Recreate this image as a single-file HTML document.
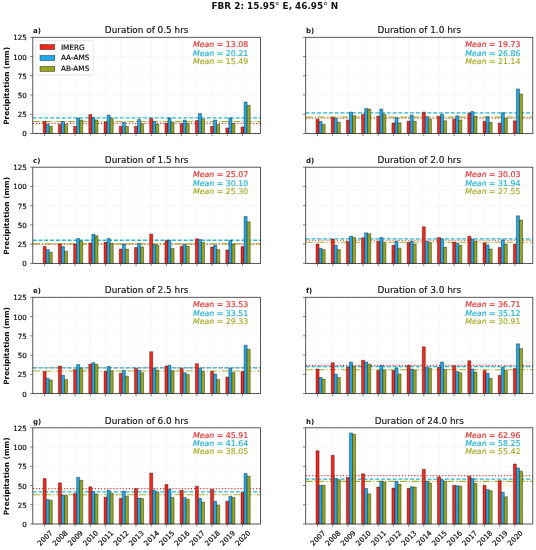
<!DOCTYPE html>
<html lang="en"><head><meta charset="utf-8"><title>FBR 2: 15.95° E, 46.95° N</title>
<style>html,body{margin:0;padding:0;background:#fff}body{width:536px;height:550px;overflow:hidden}svg{display:block}</style>
</head><body>
<svg width="536" height="550" viewBox="0 0 536 550" font-family="'DejaVu Sans', 'Liberation Sans', sans-serif">
<rect width="536" height="550" fill="#fff"/>
<text transform="translate(274.8 8.7) scale(1.095 1)" text-anchor="middle" font-weight="bold" font-size="8.1" fill="#111">FBR 2: 15.95° E, 46.95° N</text>
<g>
<path d="M44.67 37.3V133.45M59.89 37.3V133.45M75.11 37.3V133.45M90.33 37.3V133.45M105.55 37.3V133.45M120.78 37.3V133.45M136 37.3V133.45M151.22 37.3V133.45M166.44 37.3V133.45M181.66 37.3V133.45M196.88 37.3V133.45M212.1 37.3V133.45M227.32 37.3V133.45M242.54 37.3V133.45M32.8 114.22H260.5M32.8 94.99H260.5M32.8 75.76H260.5M32.8 56.53H260.5" stroke="#f2f2f2" stroke-width="0.6" fill="none"/>
<path d="M32.8 123.39H260.5" stroke="#dc3a38" stroke-width="1.15" stroke-dasharray="1.2 1.9" fill="none"/>
<path d="M32.8 117.9H260.5" stroke="#27b4d0" stroke-width="1.3" stroke-dasharray="3.9 1.9" fill="none"/>
<path d="M32.8 121.54H260.5" stroke="#aaae30" stroke-width="1.15" stroke-dasharray="7 1.8 1.2 1.8" fill="none"/>
<path d="M43.14 133.45V121.22h3.06V133.45zM58.36 133.45V124.22h3.06V133.45zM73.58 133.45V126.37h3.06V133.45zM88.8 133.45V114.6h3.06V133.45zM104.02 133.45V121.91h3.06V133.45zM119.25 133.45V126.22h3.06V133.45zM134.47 133.45V126.22h3.06V133.45zM149.69 133.45V118.3h3.06V133.45zM164.91 133.45V123.37h3.06V133.45zM180.13 133.45V123.68h3.06V133.45zM195.35 133.45V120.53h3.06V133.45zM210.57 133.45V126.37h3.06V133.45zM225.79 133.45V127.91h3.06V133.45zM241.01 133.45V127.07h3.06V133.45z" fill="#f3291f" stroke="#000" stroke-opacity="0.62" stroke-width="0.6"/>
<path d="M46.2 133.45V124.22h3.06V133.45zM61.42 133.45V121.53h3.06V133.45zM76.64 133.45V118.07h3.06V133.45zM91.86 133.45V117.53h3.06V133.45zM107.08 133.45V115.07h3.06V133.45zM122.31 133.45V122.22h3.06V133.45zM137.53 133.45V119.53h3.06V133.45zM152.75 133.45V121.22h3.06V133.45zM167.97 133.45V117.99h3.06V133.45zM183.19 133.45V119.99h3.06V133.45zM198.41 133.45V113.6h3.06V133.45zM213.63 133.45V119.99h3.06V133.45zM228.85 133.45V117.99h3.06V133.45zM244.07 133.45V101.91h3.06V133.45z" fill="#1fa8ea" stroke="#000" stroke-opacity="0.62" stroke-width="0.6"/>
<path d="M49.26 133.45V126.37h3.06V133.45zM64.48 133.45V124.22h3.06V133.45zM79.7 133.45V119.99h3.06V133.45zM94.92 133.45V119.99h3.06V133.45zM110.14 133.45V118.37h3.06V133.45zM125.37 133.45V126.22h3.06V133.45zM140.59 133.45V123.68h3.06V133.45zM155.81 133.45V124.22h3.06V133.45zM171.03 133.45V122.22h3.06V133.45zM186.25 133.45V123.37h3.06V133.45zM201.47 133.45V119.14h3.06V133.45zM216.69 133.45V124.53h3.06V133.45zM231.91 133.45V123.37h3.06V133.45zM247.13 133.45V105.37h3.06V133.45z" fill="#97a51f" stroke="#000" stroke-opacity="0.62" stroke-width="0.6"/>
<path d="M44.67 133.45v2.7M59.89 133.45v2.7M75.11 133.45v2.7M90.33 133.45v2.7M105.55 133.45v2.7M120.78 133.45v2.7M136 133.45v2.7M151.22 133.45v2.7M166.44 133.45v2.7M181.66 133.45v2.7M196.88 133.45v2.7M212.1 133.45v2.7M227.32 133.45v2.7M242.54 133.45v2.7M32.8 133.45h-2.7M32.8 114.22h-2.7M32.8 94.99h-2.7M32.8 75.76h-2.7M32.8 56.53h-2.7M32.8 37.3h-2.7" stroke="#3a3a3a" stroke-width="0.65" fill="none"/>
<rect x="32.8" y="37.3" width="227.7" height="96.15" fill="none" stroke="#3a3a3a" stroke-width="0.85"/>
<text x="26.7" y="136.45" text-anchor="end" font-size="7.1" fill="#111" stroke="#111" stroke-width="0.18">0</text>
<text x="26.7" y="117.22" text-anchor="end" font-size="7.1" fill="#111" stroke="#111" stroke-width="0.18">25</text>
<text x="26.7" y="97.99" text-anchor="end" font-size="7.1" fill="#111" stroke="#111" stroke-width="0.18">50</text>
<text x="26.7" y="78.76" text-anchor="end" font-size="7.1" fill="#111" stroke="#111" stroke-width="0.18">75</text>
<text x="26.7" y="59.53" text-anchor="end" font-size="7.1" fill="#111" stroke="#111" stroke-width="0.18">100</text>
<text x="26.7" y="40.3" text-anchor="end" font-size="7.1" fill="#111" stroke="#111" stroke-width="0.18">125</text>
<text x="146.65" y="33" text-anchor="middle" font-size="8.88" fill="#111" stroke="#111" stroke-width="0.15">Duration of 0.5 hrs</text>
<text x="33.1" y="33" font-weight="bold" font-size="7.0" fill="#111">a)</text>
<text transform="translate(8.7 85.88) rotate(-90)" text-anchor="middle" font-weight="bold" font-size="7.33" fill="#111">Precipitation (mm)</text>
<text x="248.1" y="47.3" text-anchor="end" font-size="7.8" fill="#dc3a38" stroke="#dc3a38" stroke-width="0.2"><tspan font-style="italic">Mean</tspan> = 13.08</text>
<text x="248.1" y="55.6" text-anchor="end" font-size="7.8" fill="#27b4d0" stroke="#27b4d0" stroke-width="0.2"><tspan font-style="italic">Mean</tspan> = 20.21</text>
<text x="248.1" y="63.9" text-anchor="end" font-size="7.8" fill="#aaae30" stroke="#aaae30" stroke-width="0.2"><tspan font-style="italic">Mean</tspan> = 15.49</text>
<rect x="35.9" y="40.5" width="57.4" height="34.2" rx="1.5" fill="#fff" fill-opacity="0.8" stroke="#dedede" stroke-width="0.6"/>
<rect x="40" y="44.5" width="14.7" height="5.1" fill="#f3291f" stroke="#000" stroke-opacity="0.62" stroke-width="0.6"/>
<text x="60.9" y="49.5" font-size="7.3" fill="#111" stroke="#111" stroke-width="0.2">IMERG</text>
<rect x="40" y="55.45" width="14.7" height="5.1" fill="#1fa8ea" stroke="#000" stroke-opacity="0.62" stroke-width="0.6"/>
<text x="60.9" y="60.45" font-size="7.3" fill="#111" stroke="#111" stroke-width="0.2">AA-AMS</text>
<rect x="40" y="66.4" width="14.7" height="5.1" fill="#97a51f" stroke="#000" stroke-opacity="0.62" stroke-width="0.6"/>
<text x="60.9" y="71.4" font-size="7.3" fill="#111" stroke="#111" stroke-width="0.2">AB-AMS</text>
</g>
<g>
<path d="M317.54 37.3V133.45M332.72 37.3V133.45M347.9 37.3V133.45M363.08 37.3V133.45M378.26 37.3V133.45M393.44 37.3V133.45M408.62 37.3V133.45M423.8 37.3V133.45M438.98 37.3V133.45M454.17 37.3V133.45M469.35 37.3V133.45M484.53 37.3V133.45M499.71 37.3V133.45M514.89 37.3V133.45M305.7 114.22H532.8M305.7 94.99H532.8M305.7 75.76H532.8M305.7 56.53H532.8" stroke="#f2f2f2" stroke-width="0.6" fill="none"/>
<path d="M305.7 118.27H532.8" stroke="#dc3a38" stroke-width="1.15" stroke-dasharray="1.2 1.9" fill="none"/>
<path d="M305.7 112.79H532.8" stroke="#27b4d0" stroke-width="1.3" stroke-dasharray="3.9 1.9" fill="none"/>
<path d="M305.7 117.19H532.8" stroke="#aaae30" stroke-width="1.15" stroke-dasharray="7 1.8 1.2 1.8" fill="none"/>
<path d="M316.01 133.45V119.14h3.06V133.45zM331.19 133.45V117.53h3.06V133.45zM346.37 133.45V119.99h3.06V133.45zM361.55 133.45V114.14h3.06V133.45zM376.73 133.45V116.14h3.06V133.45zM391.91 133.45V123.07h3.06V133.45zM407.09 133.45V121.22h3.06V133.45zM422.27 133.45V112.14h3.06V133.45zM437.45 133.45V116.14h3.06V133.45zM452.64 133.45V119.14h3.06V133.45zM467.82 133.45V113.3h3.06V133.45zM483 133.45V121.22h3.06V133.45zM498.18 133.45V123.07h3.06V133.45zM513.36 133.45V120.84h3.06V133.45z" fill="#f3291f" stroke="#000" stroke-opacity="0.62" stroke-width="0.6"/>
<path d="M319.07 133.45V121.37h3.06V133.45zM334.25 133.45V118.3h3.06V133.45zM349.43 133.45V112.14h3.06V133.45zM364.61 133.45V108.45h3.06V133.45zM379.79 133.45V109.07h3.06V133.45zM394.97 133.45V117.53h3.06V133.45zM410.15 133.45V115.14h3.06V133.45zM425.33 133.45V116.68h3.06V133.45zM440.51 133.45V114.3h3.06V133.45zM455.7 133.45V115.84h3.06V133.45zM470.88 133.45V111.6h3.06V133.45zM486.06 133.45V116.68h3.06V133.45zM501.24 133.45V112.76h3.06V133.45zM516.42 133.45V88.91h3.06V133.45z" fill="#1fa8ea" stroke="#000" stroke-opacity="0.62" stroke-width="0.6"/>
<path d="M322.13 133.45V124.22h3.06V133.45zM337.31 133.45V122.22h3.06V133.45zM352.49 133.45V115.45h3.06V133.45zM367.67 133.45V109.07h3.06V133.45zM382.85 133.45V114.14h3.06V133.45zM398.03 133.45V122.84h3.06V133.45zM413.21 133.45V121.22h3.06V133.45zM428.39 133.45V119.14h3.06V133.45zM443.57 133.45V120.84h3.06V133.45zM458.76 133.45V119.99h3.06V133.45zM473.94 133.45V116.3h3.06V133.45zM489.12 133.45V122.22h3.06V133.45zM504.3 133.45V118.3h3.06V133.45zM519.48 133.45V93.99h3.06V133.45z" fill="#97a51f" stroke="#000" stroke-opacity="0.62" stroke-width="0.6"/>
<path d="M317.54 133.45v2.7M332.72 133.45v2.7M347.9 133.45v2.7M363.08 133.45v2.7M378.26 133.45v2.7M393.44 133.45v2.7M408.62 133.45v2.7M423.8 133.45v2.7M438.98 133.45v2.7M454.17 133.45v2.7M469.35 133.45v2.7M484.53 133.45v2.7M499.71 133.45v2.7M514.89 133.45v2.7M305.7 133.45h-2.7M305.7 114.22h-2.7M305.7 94.99h-2.7M305.7 75.76h-2.7M305.7 56.53h-2.7M305.7 37.3h-2.7" stroke="#3a3a3a" stroke-width="0.65" fill="none"/>
<rect x="305.7" y="37.3" width="227.1" height="96.15" fill="none" stroke="#3a3a3a" stroke-width="0.85"/>
<text x="419.25" y="33" text-anchor="middle" font-size="8.88" fill="#111" stroke="#111" stroke-width="0.15">Duration of 1.0 hrs</text>
<text x="306" y="33" font-weight="bold" font-size="7.0" fill="#111">b)</text>
<text x="520.4" y="47.3" text-anchor="end" font-size="7.8" fill="#dc3a38" stroke="#dc3a38" stroke-width="0.2"><tspan font-style="italic">Mean</tspan> = 19.73</text>
<text x="520.4" y="55.6" text-anchor="end" font-size="7.8" fill="#27b4d0" stroke="#27b4d0" stroke-width="0.2"><tspan font-style="italic">Mean</tspan> = 26.86</text>
<text x="520.4" y="63.9" text-anchor="end" font-size="7.8" fill="#aaae30" stroke="#aaae30" stroke-width="0.2"><tspan font-style="italic">Mean</tspan> = 21.14</text>
</g>
<g>
<path d="M44.67 167.2V263.4M59.89 167.2V263.4M75.11 167.2V263.4M90.33 167.2V263.4M105.55 167.2V263.4M120.78 167.2V263.4M136 167.2V263.4M151.22 167.2V263.4M166.44 167.2V263.4M181.66 167.2V263.4M196.88 167.2V263.4M212.1 167.2V263.4M227.32 167.2V263.4M242.54 167.2V263.4M32.8 244.16H260.5M32.8 224.92H260.5M32.8 205.68H260.5M32.8 186.44H260.5" stroke="#f2f2f2" stroke-width="0.6" fill="none"/>
<path d="M32.8 244.11H260.5" stroke="#dc3a38" stroke-width="1.15" stroke-dasharray="1.2 1.9" fill="none"/>
<path d="M32.8 240.24H260.5" stroke="#27b4d0" stroke-width="1.3" stroke-dasharray="3.9 1.9" fill="none"/>
<path d="M32.8 243.93H260.5" stroke="#aaae30" stroke-width="1.15" stroke-dasharray="7 1.8 1.2 1.8" fill="none"/>
<path d="M43.14 263.4V246.62h3.06V263.4zM58.36 263.4V244.08h3.06V263.4zM73.58 263.4V244.08h3.06V263.4zM88.8 263.4V242.93h3.06V263.4zM104.02 263.4V242.24h3.06V263.4zM119.25 263.4V249.09h3.06V263.4zM134.47 263.4V247.47h3.06V263.4zM149.69 263.4V234h3.06V263.4zM164.91 263.4V240.7h3.06V263.4zM180.13 263.4V246.24h3.06V263.4zM195.35 263.4V238.7h3.06V263.4zM210.57 263.4V246.93h3.06V263.4zM225.79 263.4V249.93h3.06V263.4zM241.01 263.4V246.62h3.06V263.4z" fill="#f3291f" stroke="#000" stroke-opacity="0.62" stroke-width="0.6"/>
<path d="M46.2 263.4V249.47h3.06V263.4zM61.42 263.4V246.62h3.06V263.4zM76.64 263.4V238.39h3.06V263.4zM91.86 263.4V234.31h3.06V263.4zM107.08 263.4V238.39h3.06V263.4zM122.31 263.4V244.08h3.06V263.4zM137.53 263.4V243.54h3.06V263.4zM152.75 263.4V244.54h3.06V263.4zM167.97 263.4V240.39h3.06V263.4zM183.19 263.4V244.39h3.06V263.4zM198.41 263.4V239.39h3.06V263.4zM213.63 263.4V245.24h3.06V263.4zM228.85 263.4V240.39h3.06V263.4zM244.07 263.4V216.38h3.06V263.4z" fill="#1fa8ea" stroke="#000" stroke-opacity="0.62" stroke-width="0.6"/>
<path d="M49.26 263.4V252.16h3.06V263.4zM64.48 263.4V251.16h3.06V263.4zM79.7 263.4V241.24h3.06V263.4zM94.92 263.4V235.69h3.06V263.4zM110.14 263.4V243.24h3.06V263.4zM125.37 263.4V249.09h3.06V263.4zM140.59 263.4V246.93h3.06V263.4zM155.81 263.4V245.24h3.06V263.4zM171.03 263.4V248.62h3.06V263.4zM186.25 263.4V246.24h3.06V263.4zM201.47 263.4V242.39h3.06V263.4zM216.69 263.4V249.62h3.06V263.4zM231.91 263.4V244.08h3.06V263.4zM247.13 263.4V221.76h3.06V263.4z" fill="#97a51f" stroke="#000" stroke-opacity="0.62" stroke-width="0.6"/>
<path d="M44.67 263.4v2.7M59.89 263.4v2.7M75.11 263.4v2.7M90.33 263.4v2.7M105.55 263.4v2.7M120.78 263.4v2.7M136 263.4v2.7M151.22 263.4v2.7M166.44 263.4v2.7M181.66 263.4v2.7M196.88 263.4v2.7M212.1 263.4v2.7M227.32 263.4v2.7M242.54 263.4v2.7M32.8 263.4h-2.7M32.8 244.16h-2.7M32.8 224.92h-2.7M32.8 205.68h-2.7M32.8 186.44h-2.7M32.8 167.2h-2.7" stroke="#3a3a3a" stroke-width="0.65" fill="none"/>
<rect x="32.8" y="167.2" width="227.7" height="96.2" fill="none" stroke="#3a3a3a" stroke-width="0.85"/>
<text x="26.7" y="266.4" text-anchor="end" font-size="7.1" fill="#111" stroke="#111" stroke-width="0.18">0</text>
<text x="26.7" y="247.16" text-anchor="end" font-size="7.1" fill="#111" stroke="#111" stroke-width="0.18">25</text>
<text x="26.7" y="227.92" text-anchor="end" font-size="7.1" fill="#111" stroke="#111" stroke-width="0.18">50</text>
<text x="26.7" y="208.68" text-anchor="end" font-size="7.1" fill="#111" stroke="#111" stroke-width="0.18">75</text>
<text x="26.7" y="189.44" text-anchor="end" font-size="7.1" fill="#111" stroke="#111" stroke-width="0.18">100</text>
<text x="26.7" y="170.2" text-anchor="end" font-size="7.1" fill="#111" stroke="#111" stroke-width="0.18">125</text>
<text x="146.65" y="162.9" text-anchor="middle" font-size="8.88" fill="#111" stroke="#111" stroke-width="0.15">Duration of 1.5 hrs</text>
<text x="33.1" y="162.9" font-weight="bold" font-size="7.0" fill="#111">c)</text>
<text transform="translate(8.7 215.8) rotate(-90)" text-anchor="middle" font-weight="bold" font-size="7.33" fill="#111">Precipitation (mm)</text>
<text x="248.1" y="177.2" text-anchor="end" font-size="7.8" fill="#dc3a38" stroke="#dc3a38" stroke-width="0.2"><tspan font-style="italic">Mean</tspan> = 25.07</text>
<text x="248.1" y="185.5" text-anchor="end" font-size="7.8" fill="#27b4d0" stroke="#27b4d0" stroke-width="0.2"><tspan font-style="italic">Mean</tspan> = 30.10</text>
<text x="248.1" y="193.8" text-anchor="end" font-size="7.8" fill="#aaae30" stroke="#aaae30" stroke-width="0.2"><tspan font-style="italic">Mean</tspan> = 25.30</text>
</g>
<g>
<path d="M317.54 167.2V263.4M332.72 167.2V263.4M347.9 167.2V263.4M363.08 167.2V263.4M378.26 167.2V263.4M393.44 167.2V263.4M408.62 167.2V263.4M423.8 167.2V263.4M438.98 167.2V263.4M454.17 167.2V263.4M469.35 167.2V263.4M484.53 167.2V263.4M499.71 167.2V263.4M514.89 167.2V263.4M305.7 244.16H532.8M305.7 224.92H532.8M305.7 205.68H532.8M305.7 186.44H532.8" stroke="#f2f2f2" stroke-width="0.6" fill="none"/>
<path d="M305.7 240.29H532.8" stroke="#dc3a38" stroke-width="1.15" stroke-dasharray="1.2 1.9" fill="none"/>
<path d="M305.7 238.82H532.8" stroke="#27b4d0" stroke-width="1.3" stroke-dasharray="3.9 1.9" fill="none"/>
<path d="M305.7 242.2H532.8" stroke="#aaae30" stroke-width="1.15" stroke-dasharray="7 1.8 1.2 1.8" fill="none"/>
<path d="M316.01 263.4V244.08h3.06V263.4zM331.19 263.4V239h3.06V263.4zM346.37 263.4V241.54h3.06V263.4zM361.55 263.4V237.7h3.06V263.4zM376.73 263.4V241.39h3.06V263.4zM391.91 263.4V245.24h3.06V263.4zM407.09 263.4V242.39h3.06V263.4zM422.27 263.4V226.77h3.06V263.4zM437.45 263.4V237.39h3.06V263.4zM452.64 263.4V242.01h3.06V263.4zM467.82 263.4V236.16h3.06V263.4zM483 263.4V242.93h3.06V263.4zM498.18 263.4V247.47h3.06V263.4zM513.36 263.4V244.08h3.06V263.4z" fill="#f3291f" stroke="#000" stroke-opacity="0.62" stroke-width="0.6"/>
<path d="M319.07 263.4V248.24h3.06V263.4zM334.25 263.4V245.24h3.06V263.4zM349.43 263.4V236.16h3.06V263.4zM364.61 263.4V232.85h3.06V263.4zM379.79 263.4V237.39h3.06V263.4zM394.97 263.4V241.24h3.06V263.4zM410.15 263.4V241.24h3.06V263.4zM425.33 263.4V241.24h3.06V263.4zM440.51 263.4V239h3.06V263.4zM455.7 263.4V243.24h3.06V263.4zM470.88 263.4V239h3.06V263.4zM486.06 263.4V244.93h3.06V263.4zM501.24 263.4V239.85h3.06V263.4zM516.42 263.4V215.84h3.06V263.4z" fill="#1fa8ea" stroke="#000" stroke-opacity="0.62" stroke-width="0.6"/>
<path d="M322.13 263.4V249.62h3.06V263.4zM337.31 263.4V249.62h3.06V263.4zM352.49 263.4V237.39h3.06V263.4zM367.67 263.4V233.69h3.06V263.4zM382.85 263.4V242.24h3.06V263.4zM398.03 263.4V248.24h3.06V263.4zM413.21 263.4V244.08h3.06V263.4zM428.39 263.4V242.39h3.06V263.4zM443.57 263.4V247.08h3.06V263.4zM458.76 263.4V245.24h3.06V263.4zM473.94 263.4V241.24h3.06V263.4zM489.12 263.4V249.09h3.06V263.4zM504.3 263.4V244.08h3.06V263.4zM519.48 263.4V220.07h3.06V263.4z" fill="#97a51f" stroke="#000" stroke-opacity="0.62" stroke-width="0.6"/>
<path d="M317.54 263.4v2.7M332.72 263.4v2.7M347.9 263.4v2.7M363.08 263.4v2.7M378.26 263.4v2.7M393.44 263.4v2.7M408.62 263.4v2.7M423.8 263.4v2.7M438.98 263.4v2.7M454.17 263.4v2.7M469.35 263.4v2.7M484.53 263.4v2.7M499.71 263.4v2.7M514.89 263.4v2.7M305.7 263.4h-2.7M305.7 244.16h-2.7M305.7 224.92h-2.7M305.7 205.68h-2.7M305.7 186.44h-2.7M305.7 167.2h-2.7" stroke="#3a3a3a" stroke-width="0.65" fill="none"/>
<rect x="305.7" y="167.2" width="227.1" height="96.2" fill="none" stroke="#3a3a3a" stroke-width="0.85"/>
<text x="419.25" y="162.9" text-anchor="middle" font-size="8.88" fill="#111" stroke="#111" stroke-width="0.15">Duration of 2.0 hrs</text>
<text x="306" y="162.9" font-weight="bold" font-size="7.0" fill="#111">d)</text>
<text x="520.4" y="177.2" text-anchor="end" font-size="7.8" fill="#dc3a38" stroke="#dc3a38" stroke-width="0.2"><tspan font-style="italic">Mean</tspan> = 30.03</text>
<text x="520.4" y="185.5" text-anchor="end" font-size="7.8" fill="#27b4d0" stroke="#27b4d0" stroke-width="0.2"><tspan font-style="italic">Mean</tspan> = 31.94</text>
<text x="520.4" y="193.8" text-anchor="end" font-size="7.8" fill="#aaae30" stroke="#aaae30" stroke-width="0.2"><tspan font-style="italic">Mean</tspan> = 27.55</text>
</g>
<g>
<path d="M44.67 297.3V393.6M59.89 297.3V393.6M75.11 297.3V393.6M90.33 297.3V393.6M105.55 297.3V393.6M120.78 297.3V393.6M136 297.3V393.6M151.22 297.3V393.6M166.44 297.3V393.6M181.66 297.3V393.6M196.88 297.3V393.6M212.1 297.3V393.6M227.32 297.3V393.6M242.54 297.3V393.6M32.8 374.34H260.5M32.8 355.08H260.5M32.8 335.82H260.5M32.8 316.56H260.5" stroke="#f2f2f2" stroke-width="0.6" fill="none"/>
<path d="M32.8 367.77H260.5" stroke="#dc3a38" stroke-width="1.15" stroke-dasharray="1.2 1.9" fill="none"/>
<path d="M32.8 367.78H260.5" stroke="#27b4d0" stroke-width="1.3" stroke-dasharray="3.9 1.9" fill="none"/>
<path d="M32.8 371H260.5" stroke="#aaae30" stroke-width="1.15" stroke-dasharray="7 1.8 1.2 1.8" fill="none"/>
<path d="M43.14 393.6V371.57h3.06V393.6zM58.36 393.6V366.02h3.06V393.6zM73.58 393.6V369.56h3.06V393.6zM88.8 393.6V364.02h3.06V393.6zM104.02 393.6V371.57h3.06V393.6zM119.25 393.6V373.26h3.06V393.6zM134.47 393.6V368.56h3.06V393.6zM149.69 393.6V351.69h3.06V393.6zM164.91 393.6V366.02h3.06V393.6zM180.13 393.6V368.56h3.06V393.6zM195.35 393.6V363.63h3.06V393.6zM210.57 393.6V371.57h3.06V393.6zM225.79 393.6V376.96h3.06V393.6zM241.01 393.6V371.57h3.06V393.6z" fill="#f3291f" stroke="#000" stroke-opacity="0.62" stroke-width="0.6"/>
<path d="M46.2 393.6V378.27h3.06V393.6zM61.42 393.6V375.26h3.06V393.6zM76.64 393.6V364.48h3.06V393.6zM91.86 393.6V362.63h3.06V393.6zM107.08 393.6V366.48h3.06V393.6zM122.31 393.6V370.26h3.06V393.6zM137.53 393.6V370.26h3.06V393.6zM152.75 393.6V368.56h3.06V393.6zM167.97 393.6V365.17h3.06V393.6zM183.19 393.6V372.72h3.06V393.6zM198.41 393.6V368.18h3.06V393.6zM213.63 393.6V374.11h3.06V393.6zM228.85 393.6V368.56h3.06V393.6zM244.07 393.6V345.14h3.06V393.6z" fill="#1fa8ea" stroke="#000" stroke-opacity="0.62" stroke-width="0.6"/>
<path d="M49.26 393.6V379.96h3.06V393.6zM64.48 393.6V379.5h3.06V393.6zM79.7 393.6V368.18h3.06V393.6zM94.92 393.6V364.32h3.06V393.6zM110.14 393.6V370.72h3.06V393.6zM125.37 393.6V376.11h3.06V393.6zM140.59 393.6V372.72h3.06V393.6zM155.81 393.6V370.26h3.06V393.6zM171.03 393.6V370.72h3.06V393.6zM186.25 393.6V374.57h3.06V393.6zM201.47 393.6V371.57h3.06V393.6zM216.69 393.6V379.5h3.06V393.6zM231.91 393.6V372.41h3.06V393.6zM247.13 393.6V349.22h3.06V393.6z" fill="#97a51f" stroke="#000" stroke-opacity="0.62" stroke-width="0.6"/>
<path d="M44.67 393.6v2.7M59.89 393.6v2.7M75.11 393.6v2.7M90.33 393.6v2.7M105.55 393.6v2.7M120.78 393.6v2.7M136 393.6v2.7M151.22 393.6v2.7M166.44 393.6v2.7M181.66 393.6v2.7M196.88 393.6v2.7M212.1 393.6v2.7M227.32 393.6v2.7M242.54 393.6v2.7M32.8 393.6h-2.7M32.8 374.34h-2.7M32.8 355.08h-2.7M32.8 335.82h-2.7M32.8 316.56h-2.7M32.8 297.3h-2.7" stroke="#3a3a3a" stroke-width="0.65" fill="none"/>
<rect x="32.8" y="297.3" width="227.7" height="96.3" fill="none" stroke="#3a3a3a" stroke-width="0.85"/>
<text x="26.7" y="396.6" text-anchor="end" font-size="7.1" fill="#111" stroke="#111" stroke-width="0.18">0</text>
<text x="26.7" y="377.34" text-anchor="end" font-size="7.1" fill="#111" stroke="#111" stroke-width="0.18">25</text>
<text x="26.7" y="358.08" text-anchor="end" font-size="7.1" fill="#111" stroke="#111" stroke-width="0.18">50</text>
<text x="26.7" y="338.82" text-anchor="end" font-size="7.1" fill="#111" stroke="#111" stroke-width="0.18">75</text>
<text x="26.7" y="319.56" text-anchor="end" font-size="7.1" fill="#111" stroke="#111" stroke-width="0.18">100</text>
<text x="26.7" y="300.3" text-anchor="end" font-size="7.1" fill="#111" stroke="#111" stroke-width="0.18">125</text>
<text x="146.65" y="293" text-anchor="middle" font-size="8.88" fill="#111" stroke="#111" stroke-width="0.15">Duration of 2.5 hrs</text>
<text x="33.1" y="293" font-weight="bold" font-size="7.0" fill="#111">e)</text>
<text transform="translate(8.7 345.95) rotate(-90)" text-anchor="middle" font-weight="bold" font-size="7.33" fill="#111">Precipitation (mm)</text>
<text x="248.1" y="307.3" text-anchor="end" font-size="7.8" fill="#dc3a38" stroke="#dc3a38" stroke-width="0.2"><tspan font-style="italic">Mean</tspan> = 33.53</text>
<text x="248.1" y="315.6" text-anchor="end" font-size="7.8" fill="#27b4d0" stroke="#27b4d0" stroke-width="0.2"><tspan font-style="italic">Mean</tspan> = 33.51</text>
<text x="248.1" y="323.9" text-anchor="end" font-size="7.8" fill="#aaae30" stroke="#aaae30" stroke-width="0.2"><tspan font-style="italic">Mean</tspan> = 29.33</text>
</g>
<g>
<path d="M317.54 297.3V393.6M332.72 297.3V393.6M347.9 297.3V393.6M363.08 297.3V393.6M378.26 297.3V393.6M393.44 297.3V393.6M408.62 297.3V393.6M423.8 297.3V393.6M438.98 297.3V393.6M454.17 297.3V393.6M469.35 297.3V393.6M484.53 297.3V393.6M499.71 297.3V393.6M514.89 297.3V393.6M305.7 374.34H532.8M305.7 355.08H532.8M305.7 335.82H532.8M305.7 316.56H532.8" stroke="#f2f2f2" stroke-width="0.6" fill="none"/>
<path d="M305.7 365.32H532.8" stroke="#dc3a38" stroke-width="1.15" stroke-dasharray="1.2 1.9" fill="none"/>
<path d="M305.7 366.54H532.8" stroke="#27b4d0" stroke-width="1.3" stroke-dasharray="3.9 1.9" fill="none"/>
<path d="M305.7 369.79H532.8" stroke="#aaae30" stroke-width="1.15" stroke-dasharray="7 1.8 1.2 1.8" fill="none"/>
<path d="M316.01 393.6V369.02h3.06V393.6zM331.19 393.6V362.63h3.06V393.6zM346.37 393.6V367.33h3.06V393.6zM361.55 393.6V360.32h3.06V393.6zM376.73 393.6V370.41h3.06V393.6zM391.91 393.6V370.41h3.06V393.6zM407.09 393.6V365.17h3.06V393.6zM422.27 393.6V346.84h3.06V393.6zM437.45 393.6V367.33h3.06V393.6zM452.64 393.6V365.71h3.06V393.6zM467.82 393.6V360.63h3.06V393.6zM483 393.6V370.41h3.06V393.6zM498.18 393.6V375.26h3.06V393.6zM513.36 393.6V368.56h3.06V393.6z" fill="#f3291f" stroke="#000" stroke-opacity="0.62" stroke-width="0.6"/>
<path d="M319.07 393.6V377.42h3.06V393.6zM334.25 393.6V374.11h3.06V393.6zM349.43 393.6V362.01h3.06V393.6zM364.61 393.6V362.01h3.06V393.6zM379.79 393.6V365.33h3.06V393.6zM394.97 393.6V367.87h3.06V393.6zM410.15 393.6V369.02h3.06V393.6zM425.33 393.6V367.33h3.06V393.6zM440.51 393.6V362.01h3.06V393.6zM455.7 393.6V371.57h3.06V393.6zM470.88 393.6V369.02h3.06V393.6zM486.06 393.6V373.26h3.06V393.6zM501.24 393.6V367.33h3.06V393.6zM516.42 393.6V343.83h3.06V393.6z" fill="#1fa8ea" stroke="#000" stroke-opacity="0.62" stroke-width="0.6"/>
<path d="M322.13 393.6V379.12h3.06V393.6zM337.31 393.6V377.42h3.06V393.6zM352.49 393.6V366.17h3.06V393.6zM367.67 393.6V364.32h3.06V393.6zM382.85 393.6V369.87h3.06V393.6zM398.03 393.6V374.11h3.06V393.6zM413.21 393.6V370.41h3.06V393.6zM428.39 393.6V368.18h3.06V393.6zM443.57 393.6V369.41h3.06V393.6zM458.76 393.6V372.72h3.06V393.6zM473.94 393.6V372.11h3.06V393.6zM489.12 393.6V378.27h3.06V393.6zM504.3 393.6V370.41h3.06V393.6zM519.48 393.6V348.53h3.06V393.6z" fill="#97a51f" stroke="#000" stroke-opacity="0.62" stroke-width="0.6"/>
<path d="M317.54 393.6v2.7M332.72 393.6v2.7M347.9 393.6v2.7M363.08 393.6v2.7M378.26 393.6v2.7M393.44 393.6v2.7M408.62 393.6v2.7M423.8 393.6v2.7M438.98 393.6v2.7M454.17 393.6v2.7M469.35 393.6v2.7M484.53 393.6v2.7M499.71 393.6v2.7M514.89 393.6v2.7M305.7 393.6h-2.7M305.7 374.34h-2.7M305.7 355.08h-2.7M305.7 335.82h-2.7M305.7 316.56h-2.7M305.7 297.3h-2.7" stroke="#3a3a3a" stroke-width="0.65" fill="none"/>
<rect x="305.7" y="297.3" width="227.1" height="96.3" fill="none" stroke="#3a3a3a" stroke-width="0.85"/>
<text x="419.25" y="293" text-anchor="middle" font-size="8.88" fill="#111" stroke="#111" stroke-width="0.15">Duration of 3.0 hrs</text>
<text x="306" y="293" font-weight="bold" font-size="7.0" fill="#111">f)</text>
<text x="520.4" y="307.3" text-anchor="end" font-size="7.8" fill="#dc3a38" stroke="#dc3a38" stroke-width="0.2"><tspan font-style="italic">Mean</tspan> = 36.71</text>
<text x="520.4" y="315.6" text-anchor="end" font-size="7.8" fill="#27b4d0" stroke="#27b4d0" stroke-width="0.2"><tspan font-style="italic">Mean</tspan> = 35.12</text>
<text x="520.4" y="323.9" text-anchor="end" font-size="7.8" fill="#aaae30" stroke="#aaae30" stroke-width="0.2"><tspan font-style="italic">Mean</tspan> = 30.91</text>
</g>
<g>
<path d="M44.67 427.8V524M59.89 427.8V524M75.11 427.8V524M90.33 427.8V524M105.55 427.8V524M120.78 427.8V524M136 427.8V524M151.22 427.8V524M166.44 427.8V524M181.66 427.8V524M196.88 427.8V524M212.1 427.8V524M227.32 427.8V524M242.54 427.8V524M32.8 504.76H260.5M32.8 485.52H260.5M32.8 466.28H260.5M32.8 447.04H260.5" stroke="#f2f2f2" stroke-width="0.6" fill="none"/>
<path d="M32.8 488.67H260.5" stroke="#dc3a38" stroke-width="1.15" stroke-dasharray="1.2 1.9" fill="none"/>
<path d="M32.8 491.95H260.5" stroke="#27b4d0" stroke-width="1.3" stroke-dasharray="3.9 1.9" fill="none"/>
<path d="M32.8 494.72H260.5" stroke="#aaae30" stroke-width="1.15" stroke-dasharray="7 1.8 1.2 1.8" fill="none"/>
<path d="M43.14 524V478.59h3.06V524zM58.36 524V482.83h3.06V524zM73.58 524V493.6h3.06V524zM88.8 524V486.83h3.06V524zM104.02 524V497.14h3.06V524zM119.25 524V498.3h3.06V524zM134.47 524V488.52h3.06V524zM149.69 524V473.05h3.06V524zM164.91 524V484.52h3.06V524zM180.13 524V490.21h3.06V524zM195.35 524V486.21h3.06V524zM210.57 524V489.37h3.06V524zM225.79 524V501.14h3.06V524zM241.01 524V492.45h3.06V524z" fill="#f3291f" stroke="#000" stroke-opacity="0.62" stroke-width="0.6"/>
<path d="M46.2 524V499.45h3.06V524zM61.42 524V495.29h3.06V524zM76.64 524V477.29h3.06V524zM91.86 524V491.22h3.06V524zM107.08 524V490.21h3.06V524zM122.31 524V491.06h3.06V524zM137.53 524V497.99h3.06V524zM152.75 524V490.21h3.06V524zM167.97 524V489.37h3.06V524zM183.19 524V497.45h3.06V524zM198.41 524V498.3h3.06V524zM213.63 524V501.3h3.06V524zM228.85 524V496.29h3.06V524zM244.07 524V473.44h3.06V524z" fill="#1fa8ea" stroke="#000" stroke-opacity="0.62" stroke-width="0.6"/>
<path d="M49.26 524V500.3h3.06V524zM64.48 524V495.29h3.06V524zM79.7 524V480.29h3.06V524zM94.92 524V494.06h3.06V524zM110.14 524V493.22h3.06V524zM125.37 524V496.14h3.06V524zM140.59 524V498.6h3.06V524zM155.81 524V492.45h3.06V524zM171.03 524V497.45h3.06V524zM186.25 524V499.14h3.06V524zM201.47 524V501.99h3.06V524zM216.69 524V504.99h3.06V524zM231.91 524V497.45h3.06V524zM247.13 524V476.13h3.06V524z" fill="#97a51f" stroke="#000" stroke-opacity="0.62" stroke-width="0.6"/>
<path d="M44.67 524v2.7M59.89 524v2.7M75.11 524v2.7M90.33 524v2.7M105.55 524v2.7M120.78 524v2.7M136 524v2.7M151.22 524v2.7M166.44 524v2.7M181.66 524v2.7M196.88 524v2.7M212.1 524v2.7M227.32 524v2.7M242.54 524v2.7M32.8 524h-2.7M32.8 504.76h-2.7M32.8 485.52h-2.7M32.8 466.28h-2.7M32.8 447.04h-2.7M32.8 427.8h-2.7" stroke="#3a3a3a" stroke-width="0.65" fill="none"/>
<rect x="32.8" y="427.8" width="227.7" height="96.2" fill="none" stroke="#3a3a3a" stroke-width="0.85"/>
<text x="26.7" y="527" text-anchor="end" font-size="7.1" fill="#111" stroke="#111" stroke-width="0.18">0</text>
<text x="26.7" y="507.76" text-anchor="end" font-size="7.1" fill="#111" stroke="#111" stroke-width="0.18">25</text>
<text x="26.7" y="488.52" text-anchor="end" font-size="7.1" fill="#111" stroke="#111" stroke-width="0.18">50</text>
<text x="26.7" y="469.28" text-anchor="end" font-size="7.1" fill="#111" stroke="#111" stroke-width="0.18">75</text>
<text x="26.7" y="450.04" text-anchor="end" font-size="7.1" fill="#111" stroke="#111" stroke-width="0.18">100</text>
<text x="26.7" y="430.8" text-anchor="end" font-size="7.1" fill="#111" stroke="#111" stroke-width="0.18">125</text>
<text transform="translate(45.07 538.2) rotate(-45)" text-anchor="middle" font-size="7.1" fill="#111" stroke="#111" stroke-width="0.18" dy="2.3">2007</text>
<text transform="translate(60.29 538.2) rotate(-45)" text-anchor="middle" font-size="7.1" fill="#111" stroke="#111" stroke-width="0.18" dy="2.3">2008</text>
<text transform="translate(75.51 538.2) rotate(-45)" text-anchor="middle" font-size="7.1" fill="#111" stroke="#111" stroke-width="0.18" dy="2.3">2009</text>
<text transform="translate(90.73 538.2) rotate(-45)" text-anchor="middle" font-size="7.1" fill="#111" stroke="#111" stroke-width="0.18" dy="2.3">2010</text>
<text transform="translate(105.95 538.2) rotate(-45)" text-anchor="middle" font-size="7.1" fill="#111" stroke="#111" stroke-width="0.18" dy="2.3">2011</text>
<text transform="translate(121.18 538.2) rotate(-45)" text-anchor="middle" font-size="7.1" fill="#111" stroke="#111" stroke-width="0.18" dy="2.3">2012</text>
<text transform="translate(136.4 538.2) rotate(-45)" text-anchor="middle" font-size="7.1" fill="#111" stroke="#111" stroke-width="0.18" dy="2.3">2013</text>
<text transform="translate(151.62 538.2) rotate(-45)" text-anchor="middle" font-size="7.1" fill="#111" stroke="#111" stroke-width="0.18" dy="2.3">2014</text>
<text transform="translate(166.84 538.2) rotate(-45)" text-anchor="middle" font-size="7.1" fill="#111" stroke="#111" stroke-width="0.18" dy="2.3">2015</text>
<text transform="translate(182.06 538.2) rotate(-45)" text-anchor="middle" font-size="7.1" fill="#111" stroke="#111" stroke-width="0.18" dy="2.3">2016</text>
<text transform="translate(197.28 538.2) rotate(-45)" text-anchor="middle" font-size="7.1" fill="#111" stroke="#111" stroke-width="0.18" dy="2.3">2017</text>
<text transform="translate(212.5 538.2) rotate(-45)" text-anchor="middle" font-size="7.1" fill="#111" stroke="#111" stroke-width="0.18" dy="2.3">2018</text>
<text transform="translate(227.72 538.2) rotate(-45)" text-anchor="middle" font-size="7.1" fill="#111" stroke="#111" stroke-width="0.18" dy="2.3">2019</text>
<text transform="translate(242.94 538.2) rotate(-45)" text-anchor="middle" font-size="7.1" fill="#111" stroke="#111" stroke-width="0.18" dy="2.3">2020</text>
<text x="146.65" y="423.5" text-anchor="middle" font-size="8.88" fill="#111" stroke="#111" stroke-width="0.15">Duration of 6.0 hrs</text>
<text x="33.1" y="423.5" font-weight="bold" font-size="7.0" fill="#111">g)</text>
<text transform="translate(8.7 476.4) rotate(-90)" text-anchor="middle" font-weight="bold" font-size="7.33" fill="#111">Precipitation (mm)</text>
<text x="248.1" y="437.8" text-anchor="end" font-size="7.8" fill="#dc3a38" stroke="#dc3a38" stroke-width="0.2"><tspan font-style="italic">Mean</tspan> = 45.91</text>
<text x="248.1" y="446.1" text-anchor="end" font-size="7.8" fill="#27b4d0" stroke="#27b4d0" stroke-width="0.2"><tspan font-style="italic">Mean</tspan> = 41.64</text>
<text x="248.1" y="454.4" text-anchor="end" font-size="7.8" fill="#aaae30" stroke="#aaae30" stroke-width="0.2"><tspan font-style="italic">Mean</tspan> = 38.05</text>
</g>
<g>
<path d="M317.54 427.8V524M332.72 427.8V524M347.9 427.8V524M363.08 427.8V524M378.26 427.8V524M393.44 427.8V524M408.62 427.8V524M423.8 427.8V524M438.98 427.8V524M454.17 427.8V524M469.35 427.8V524M484.53 427.8V524M499.71 427.8V524M514.89 427.8V524M305.7 504.76H532.8M305.7 485.52H532.8M305.7 466.28H532.8M305.7 447.04H532.8" stroke="#f2f2f2" stroke-width="0.6" fill="none"/>
<path d="M305.7 475.55H532.8" stroke="#dc3a38" stroke-width="1.15" stroke-dasharray="1.2 1.9" fill="none"/>
<path d="M305.7 479.17H532.8" stroke="#27b4d0" stroke-width="1.3" stroke-dasharray="3.9 1.9" fill="none"/>
<path d="M305.7 481.35H532.8" stroke="#aaae30" stroke-width="1.15" stroke-dasharray="7 1.8 1.2 1.8" fill="none"/>
<path d="M316.01 524V450.73h3.06V524zM331.19 524V455.27h3.06V524zM346.37 524V477.44h3.06V524zM361.55 524V473.82h3.06V524zM376.73 524V487.06h3.06V524zM391.91 524V487.98h3.06V524zM407.09 524V488.52h3.06V524zM422.27 524V469.28h3.06V524zM437.45 524V476.75h3.06V524zM452.64 524V485.29h3.06V524zM467.82 524V476.21h3.06V524zM483 524V485.29h3.06V524zM498.18 524V480.75h3.06V524zM513.36 524V463.97h3.06V524z" fill="#f3291f" stroke="#000" stroke-opacity="0.62" stroke-width="0.6"/>
<path d="M319.07 524V485.29h3.06V524zM334.25 524V478.52h3.06V524zM349.43 524V432.88h3.06V524zM364.61 524V488.52h3.06V524zM379.79 524V481.29h3.06V524zM394.97 524V481.29h3.06V524zM410.15 524V486.75h3.06V524zM425.33 524V481.29h3.06V524zM440.51 524V479.82h3.06V524zM455.7 524V485.83h3.06V524zM470.88 524V478.36h3.06V524zM486.06 524V489.44h3.06V524zM501.24 524V492.22h3.06V524zM516.42 524V467.97h3.06V524z" fill="#1fa8ea" stroke="#000" stroke-opacity="0.62" stroke-width="0.6"/>
<path d="M322.13 524V485.29h3.06V524zM337.31 524V479.82h3.06V524zM352.49 524V434.34h3.06V524zM367.67 524V493.83h3.06V524zM382.85 524V481.98h3.06V524zM398.03 524V484.37h3.06V524zM413.21 524V487.06h3.06V524zM428.39 524V483.06h3.06V524zM443.57 524V481.29h3.06V524zM458.76 524V486.21h3.06V524zM473.94 524V483.44h3.06V524zM489.12 524V490.75h3.06V524zM504.3 524V496.76h3.06V524zM519.48 524V471.13h3.06V524z" fill="#97a51f" stroke="#000" stroke-opacity="0.62" stroke-width="0.6"/>
<path d="M317.54 524v2.7M332.72 524v2.7M347.9 524v2.7M363.08 524v2.7M378.26 524v2.7M393.44 524v2.7M408.62 524v2.7M423.8 524v2.7M438.98 524v2.7M454.17 524v2.7M469.35 524v2.7M484.53 524v2.7M499.71 524v2.7M514.89 524v2.7M305.7 524h-2.7M305.7 504.76h-2.7M305.7 485.52h-2.7M305.7 466.28h-2.7M305.7 447.04h-2.7M305.7 427.8h-2.7" stroke="#3a3a3a" stroke-width="0.65" fill="none"/>
<rect x="305.7" y="427.8" width="227.1" height="96.2" fill="none" stroke="#3a3a3a" stroke-width="0.85"/>
<text transform="translate(317.94 538.2) rotate(-45)" text-anchor="middle" font-size="7.1" fill="#111" stroke="#111" stroke-width="0.18" dy="2.3">2007</text>
<text transform="translate(333.12 538.2) rotate(-45)" text-anchor="middle" font-size="7.1" fill="#111" stroke="#111" stroke-width="0.18" dy="2.3">2008</text>
<text transform="translate(348.3 538.2) rotate(-45)" text-anchor="middle" font-size="7.1" fill="#111" stroke="#111" stroke-width="0.18" dy="2.3">2009</text>
<text transform="translate(363.48 538.2) rotate(-45)" text-anchor="middle" font-size="7.1" fill="#111" stroke="#111" stroke-width="0.18" dy="2.3">2010</text>
<text transform="translate(378.66 538.2) rotate(-45)" text-anchor="middle" font-size="7.1" fill="#111" stroke="#111" stroke-width="0.18" dy="2.3">2011</text>
<text transform="translate(393.84 538.2) rotate(-45)" text-anchor="middle" font-size="7.1" fill="#111" stroke="#111" stroke-width="0.18" dy="2.3">2012</text>
<text transform="translate(409.02 538.2) rotate(-45)" text-anchor="middle" font-size="7.1" fill="#111" stroke="#111" stroke-width="0.18" dy="2.3">2013</text>
<text transform="translate(424.2 538.2) rotate(-45)" text-anchor="middle" font-size="7.1" fill="#111" stroke="#111" stroke-width="0.18" dy="2.3">2014</text>
<text transform="translate(439.38 538.2) rotate(-45)" text-anchor="middle" font-size="7.1" fill="#111" stroke="#111" stroke-width="0.18" dy="2.3">2015</text>
<text transform="translate(454.57 538.2) rotate(-45)" text-anchor="middle" font-size="7.1" fill="#111" stroke="#111" stroke-width="0.18" dy="2.3">2016</text>
<text transform="translate(469.75 538.2) rotate(-45)" text-anchor="middle" font-size="7.1" fill="#111" stroke="#111" stroke-width="0.18" dy="2.3">2017</text>
<text transform="translate(484.93 538.2) rotate(-45)" text-anchor="middle" font-size="7.1" fill="#111" stroke="#111" stroke-width="0.18" dy="2.3">2018</text>
<text transform="translate(500.11 538.2) rotate(-45)" text-anchor="middle" font-size="7.1" fill="#111" stroke="#111" stroke-width="0.18" dy="2.3">2019</text>
<text transform="translate(515.29 538.2) rotate(-45)" text-anchor="middle" font-size="7.1" fill="#111" stroke="#111" stroke-width="0.18" dy="2.3">2020</text>
<text x="419.25" y="423.5" text-anchor="middle" font-size="8.88" fill="#111" stroke="#111" stroke-width="0.15">Duration of 24.0 hrs</text>
<text x="306" y="423.5" font-weight="bold" font-size="7.0" fill="#111">h)</text>
<text x="520.4" y="437.8" text-anchor="end" font-size="7.8" fill="#dc3a38" stroke="#dc3a38" stroke-width="0.2"><tspan font-style="italic">Mean</tspan> = 62.96</text>
<text x="520.4" y="446.1" text-anchor="end" font-size="7.8" fill="#27b4d0" stroke="#27b4d0" stroke-width="0.2"><tspan font-style="italic">Mean</tspan> = 58.25</text>
<text x="520.4" y="454.4" text-anchor="end" font-size="7.8" fill="#aaae30" stroke="#aaae30" stroke-width="0.2"><tspan font-style="italic">Mean</tspan> = 55.42</text>
</g>
</svg>
</body></html>
